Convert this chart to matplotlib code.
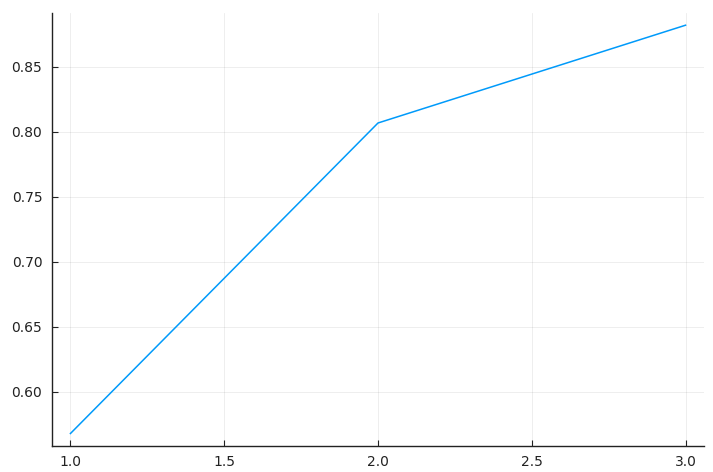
import matplotlib.pyplot as plt
import numpy as np

x = [1.0, 2.0, 3.0]
y = [0.5677, 0.8068, 0.8821]
xticks = [1.0, 1.5, 2.0, 2.5, 3.0]
yticks = [0.60, 0.65, 0.70, 0.75, 0.80, 0.85]

W, H = 713, 472
fig = plt.figure(figsize=(W / 100, H / 100), dpi=100)
ax = fig.add_axes([52 / W, (H - 445.7) / H, (704 - 52) / W, (445.7 - 13) / H])

ax.plot(x, y, color='#009AFA', linewidth=1.1)

ax.set_xlim(0.94, 3.06)
ax.set_ylim(0.5583, 0.8915)
ax.set_xticks(xticks)
ax.set_xticklabels([f'{t:.1f}' for t in xticks])
ax.set_yticks(yticks)
ax.set_yticklabels([f'{t:.2f}' for t in yticks])

ax.grid(True, color='black', alpha=0.08, linewidth=0.6)
for s in ['top', 'right']:
    ax.spines[s].set_visible(False)
for s in ['left', 'bottom']:
    ax.spines[s].set_color('#222222')
    ax.spines[s].set_linewidth(1.0)
ax.tick_params(direction='in', length=4.5, width=0.8, labelsize=10,
               colors='#222222', pad=7)

fig.savefig('out.png', dpi=100)
